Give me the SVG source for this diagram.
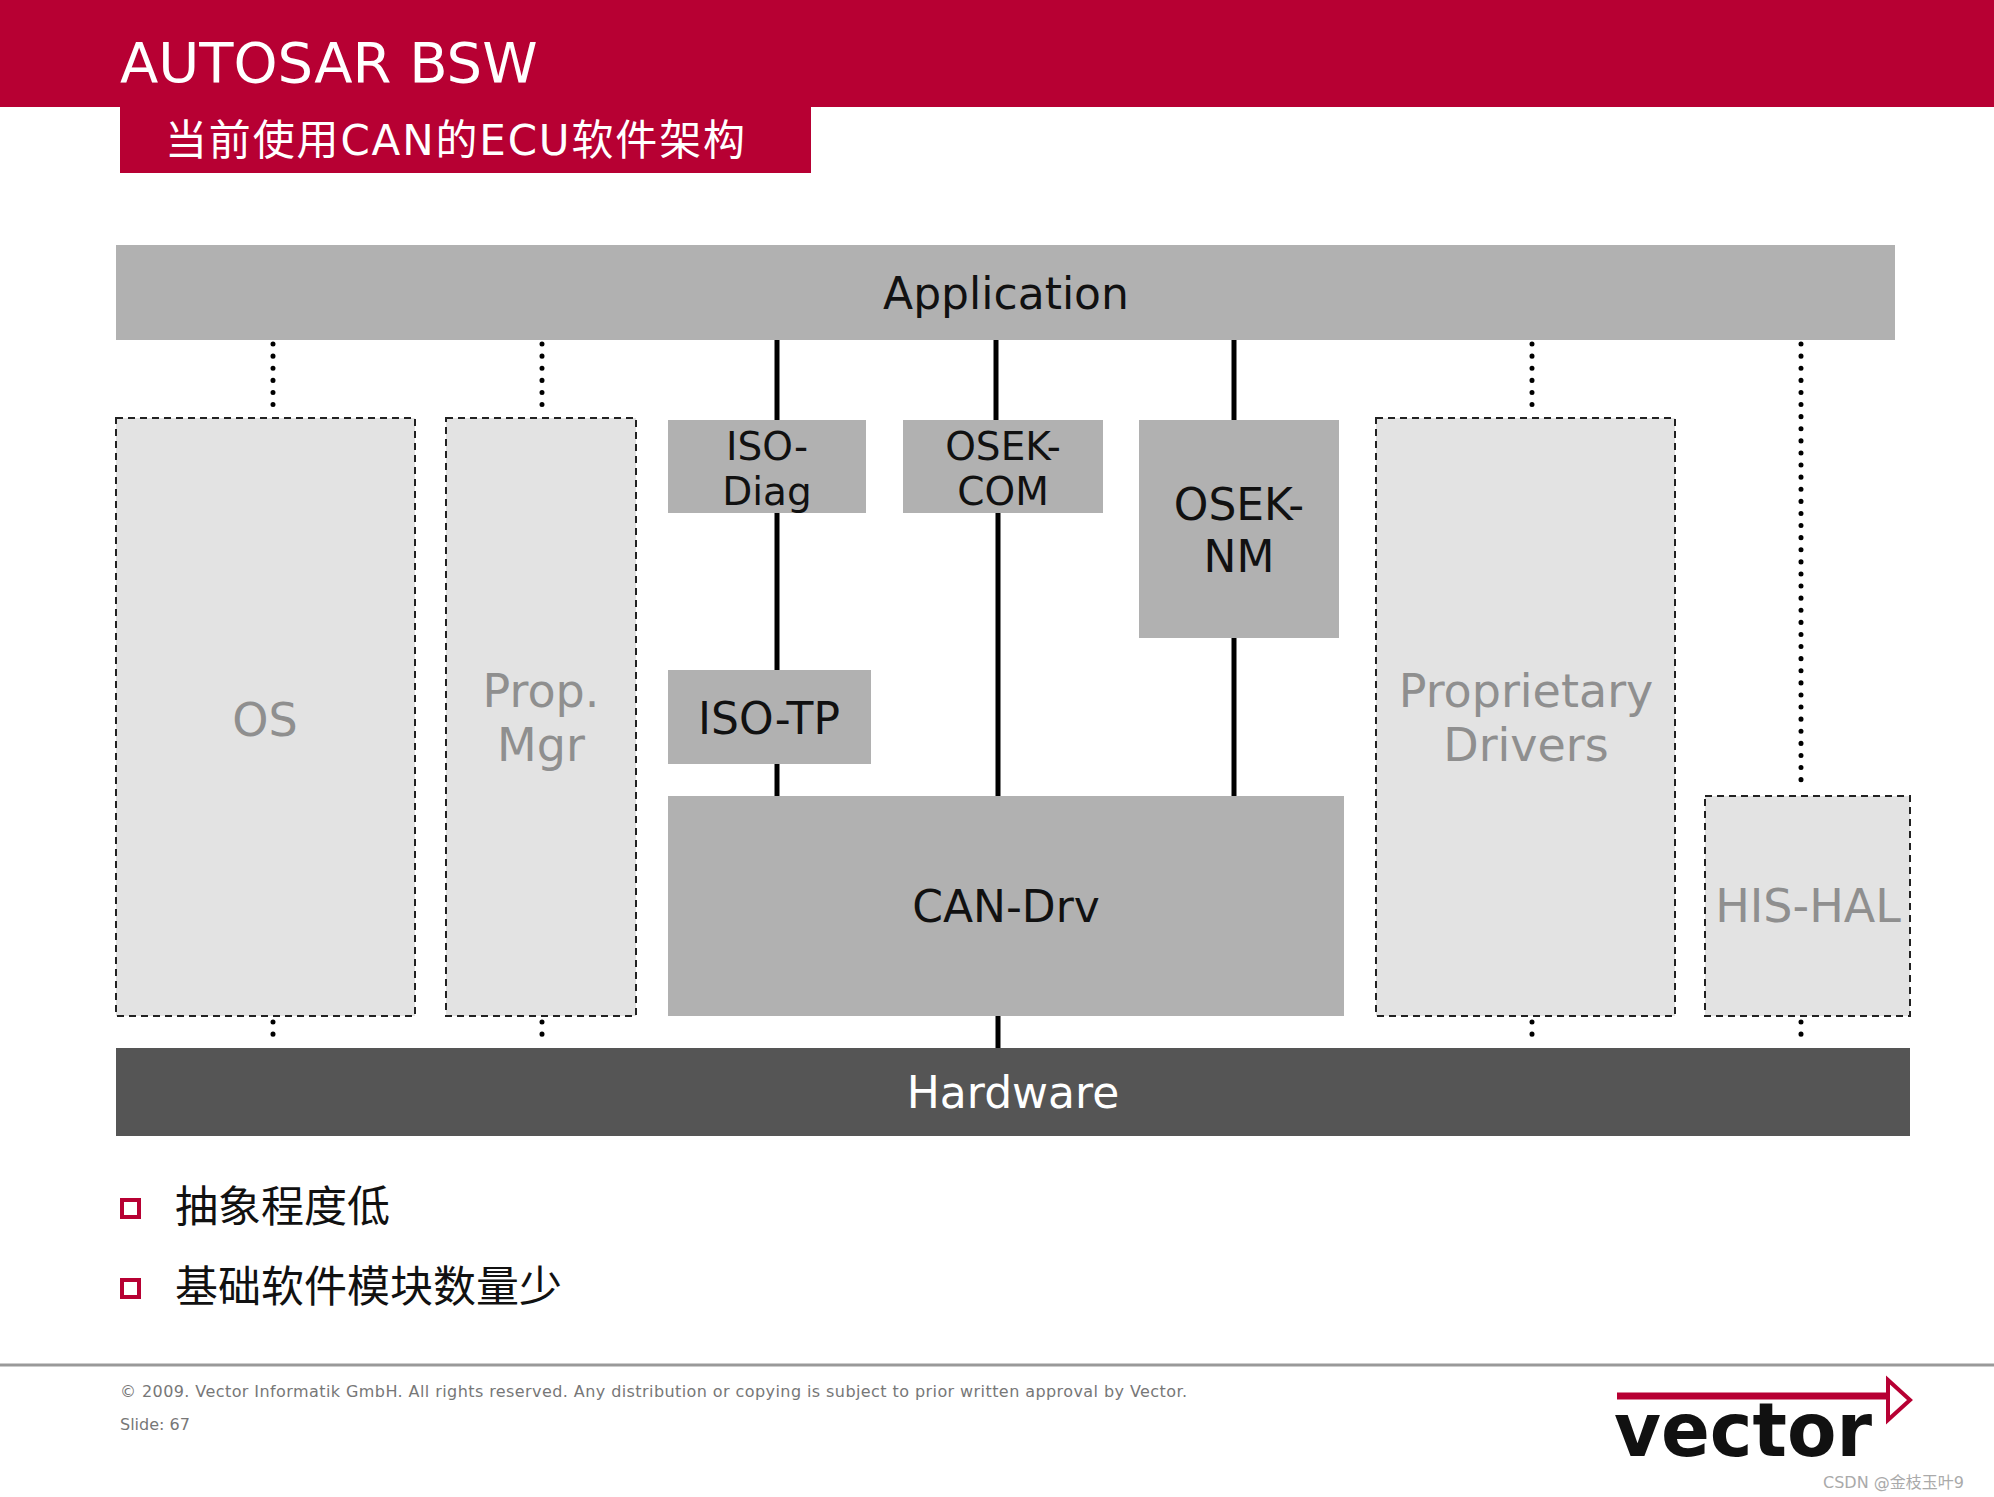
<svg xmlns="http://www.w3.org/2000/svg" width="1994" height="1497" viewBox="0 0 1994 1497">
<style>
text{font-family:"DejaVu Sans","Noto Sans CJK SC",sans-serif}
.mid{fill:#b1b1b1}
.lite{fill:#e3e3e3;stroke:#222;stroke-width:2;stroke-dasharray:7 5}
.t{font-size:44px;text-anchor:middle;fill:#111}
.g{font-size:46px;text-anchor:middle;fill:#8f8f8f}
.s{stroke:#000;stroke-width:5;fill:none}
.d{stroke:#000;stroke-width:5;fill:none;stroke-dasharray:0.1 12;stroke-linecap:round}
.bt{font-size:43px;fill:#111}
</style>
<rect x="0" y="0" width="1994" height="107" fill="#b70033"/>
<rect x="120" y="107" width="691" height="66" fill="#b70033"/>
<text x="120" y="82" font-size="56" fill="#fff">AUTOSAR BSW</text>
<text x="165" y="155" font-size="42" fill="#fff" textLength="580">当前使用CAN的ECU软件架构</text>

<g id="connectors">
<line class="d" x1="273" y1="344" x2="273" y2="414"/>
<line class="d" x1="273" y1="1022" x2="273" y2="1044"/>
<line class="d" x1="542" y1="344" x2="542" y2="414"/>
<line class="d" x1="542" y1="1022" x2="542" y2="1044"/>
<line class="d" x1="1532" y1="344" x2="1532" y2="414"/>
<line class="d" x1="1532" y1="1022" x2="1532" y2="1044"/>
<line class="d" x1="1801" y1="344" x2="1801" y2="790"/>
<line class="d" x1="1801" y1="1022" x2="1801" y2="1044"/>
<line class="s" x1="777" y1="333" x2="777" y2="420"/>
<line class="s" x1="777" y1="513" x2="777" y2="670"/>
<line class="s" x1="777" y1="764" x2="777" y2="796"/>
<line class="s" x1="996" y1="333" x2="996" y2="420"/>
<line class="s" x1="998" y1="513" x2="998" y2="796"/>
<line class="s" x1="998" y1="1016" x2="998" y2="1048"/>
<line class="s" x1="1234" y1="340" x2="1234" y2="420"/>
<line class="s" x1="1234" y1="638" x2="1234" y2="796"/>
</g>

<g id="application"><rect x="116" y="245" width="1779" height="95" class="mid"/><text class="t" x="1006" y="309">Application</text></g>
<g id="os"><rect x="116" y="418" width="299" height="598" class="lite"/><text class="g" x="265" y="736">OS</text></g>
<g id="propmgr"><rect x="446" y="418" width="190" height="598" class="lite"/><text class="g" x="541" y="707">Prop.</text><text class="g" x="541" y="761">Mgr</text></g>
<g id="isodiag"><rect x="668" y="420" width="198" height="93" class="mid"/><text class="t" x="767" y="460" style="font-size:39px">ISO-</text><text class="t" x="767" y="505" style="font-size:39px">Diag</text></g>
<g id="osekcom"><rect x="903" y="420" width="200" height="93" class="mid"/><text class="t" x="1003" y="460" style="font-size:39px">OSEK-</text><text class="t" x="1003" y="505" style="font-size:39px">COM</text></g>
<g id="oseknm"><rect x="1139" y="420" width="200" height="218" class="mid"/><text class="t" x="1239" y="520">OSEK-</text><text class="t" x="1239" y="572">NM</text></g>
<g id="isotp"><rect x="668" y="670" width="203" height="94" class="mid"/><text class="t" x="769" y="734">ISO-TP</text></g>
<g id="candrv"><rect x="668" y="796" width="676" height="220" class="mid"/><text class="t" x="1006" y="922">CAN-Drv</text></g>
<g id="propdrv"><rect x="1376" y="418" width="299" height="598" class="lite"/><text class="g" x="1526" y="707">Proprietary</text><text class="g" x="1526" y="761">Drivers</text></g>
<g id="hishal"><rect x="1705" y="796" width="205" height="220" class="lite"/><text class="g" x="1808" y="922">HIS-HAL</text></g>
<g id="hardware"><rect x="116" y="1048" width="1794" height="88" fill="#555"/><text class="t" x="1013" y="1108" style="fill:#fff">Hardware</text></g>

<rect x="122" y="1200" width="17" height="17" fill="none" stroke="#b70033" stroke-width="4"/>
<text class="bt" x="175" y="1222">抽象程度低</text>
<rect x="122" y="1280" width="17" height="17" fill="none" stroke="#b70033" stroke-width="4"/>
<text class="bt" x="175" y="1302">基础软件模块数量少</text>

<line x1="0" y1="1365" x2="1994" y2="1365" stroke="#999" stroke-width="3"/>
<text x="120" y="1397" font-size="16" fill="#777" textLength="1067">© 2009. Vector Informatik GmbH. All rights reserved. Any distribution or copying is subject to prior written approval by Vector.</text>
<text x="120" y="1430" font-size="16" fill="#777">Slide: 67</text>

<line x1="1617" y1="1396" x2="1888" y2="1396" stroke="#b70033" stroke-width="7"/>
<path d="M1888 1380 L1910 1400 L1888 1420 Z" fill="none" stroke="#b70033" stroke-width="4"/>
<text x="1614" y="1456" font-size="74" font-weight="bold" fill="#111" textLength="258" lengthAdjust="spacingAndGlyphs">vector</text>
<text x="1823" y="1488" font-size="16" fill="#aaa">CSDN @金枝玉叶9</text>
</svg>
